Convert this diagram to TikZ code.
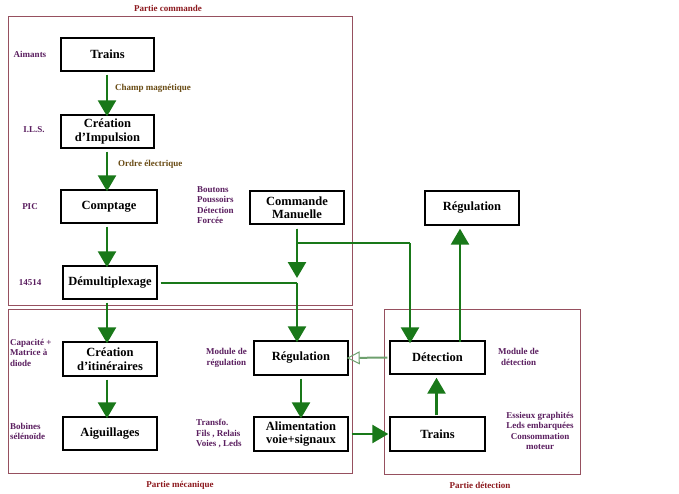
\documentclass[tikz,border=0pt]{standalone}
\usepackage{fontspec}
\setmainfont{Liberation Serif}
\usetikzlibrary{arrows.meta}
\definecolor{grn}{RGB}{25,120,25}
\definecolor{lgrn}{RGB}{110,160,110}
\definecolor{frm}{RGB}{150,80,95}
\definecolor{ttl}{RGB}{140,25,30}
\definecolor{lbl}{RGB}{90,30,95}
\definecolor{alb}{RGB}{105,75,20}
\begin{document}
\begin{tikzpicture}[x=1pt,y=-1pt,
 box/.style={draw,line width=1.4pt,font=\bfseries\fontsize{12.5}{13.5}\selectfont,align=center,inner sep=0},
 fr/.style={draw=frm,line width=0.8pt},
 ttlt/.style={text=ttl,font=\bfseries\fontsize{9}{9}\selectfont},
 lb/.style={text=lbl,font=\bfseries\fontsize{9}{10.5}\selectfont,align=left,inner sep=0},
 al/.style={text=alb,font=\bfseries\fontsize{9}{9}\selectfont,anchor=west,inner sep=0},
 ar/.style={draw=grn,line width=2.6pt,-{Triangle[length=16pt,width=18pt]}},
 ln/.style={draw=grn,line width=2pt}]
\useasboundingbox (0,0) rectangle (679,494);
\draw[fr] (8,16) rectangle (352,305);
\draw[fr] (8,309) rectangle (352,473);
\draw[fr] (384,309) rectangle (580,474);
\node[ttlt] (t1) at (168,8) {Partie commande};
\node[ttlt] (t2) at (180,485) {Partie mécanique};
\node[ttlt] (t3) at (480,485) {Partie détection};
\newcommand{\bx}[6]{\node[box,minimum width=#4-#2,minimum height=#5-#3] (#1) at ({(#2+#4)/2},{(#3+#5)/2}) {#6};}
\bx{tr}{61}{38}{154}{71}{Trains}
\bx{ci}{61}{115}{154}{148}{Création\\d'Impulsion}
\bx{co}{61}{190}{157}{223}{Comptage}
\bx{cm}{250}{191}{344}{224}{Commande\\Manuelle}
\bx{de}{63}{266}{157}{299}{Démultiplexage}
\bx{rt}{425}{191}{519}{225}{Régulation}
\bx{it}{63}{342}{157}{376}{Création\\d'itinéraires}
\bx{ai}{63}{417}{157}{450}{Aiguillages}
\bx{rm}{254}{341}{348}{375}{Régulation}
\bx{al}{254}{417}{348}{451}{Alimentation\\voie+signaux}
\bx{dt}{390}{341}{485}{374}{Détection}
\bx{t2}{390}{417}{485}{451}{Trains}
\node[lb] (l1) at (30,54) {Aimants};
\node[lb] (l2) at (34,130) {I.L.S.};
\node[lb] (l3) at (30,207) {PIC};
\node[lb] (l4) at (30,283) {14514};
\node[lb,anchor=north west] (l5) at (197,186) {Boutons\\Poussoirs\\Détection\\Forcée};
\node[lb,anchor=north west] (l6) at (10,339) {Capacité +\\Matrice à\\diode};
\node[lb,anchor=north west] (l7) at (10,423) {Bobines\\sélénoïde};
\node[lb,align=center,anchor=east] (l8) at (247,358) {Module de\\régulation};
\node[lb,anchor=north west] (l9) at (196,419) {Transfo.\\Fils , Relais\\Voies , Leds};
\node[lb,align=center,anchor=west] (l10) at (498,357) {Module de\\détection};
\node[lb,align=center,anchor=north] (l11) at (540,412) {Essieux graphités\\Leds embarquées\\Consommation\\moteur};
\node[al] (a1) at (115,88) {Champ magnétique};
\node[al] (a2) at (118,164) {Ordre électrique};
\coordinate (xa) at (107,0);
\draw[ar] (tr.south -| xa) ++(0,3) -- ([yshift=-2pt]ci.north -| xa);
\draw[ar] ([yshift=-3pt]ci.south -| xa) -- ([yshift=-2pt]co.north -| xa);
\draw[ar] ([yshift=-3pt]co.south -| xa) -- ([yshift=-2pt]de.north -| xa);
\draw[ar] ([yshift=-3pt]de.south -| xa) -- ([yshift=-2pt]it.north -| xa);
\draw[ar] ([yshift=-3pt]it.south -| xa) -- ([yshift=-2pt]ai.north -| xa);
\coordinate (j1) at (de.east -| 297,0);
\coordinate (j2) at (297,243);
\coordinate (j3) at (410,243);
\coordinate (xr) at (460,0);
\draw[ln] ([xshift=3pt]de.east) -- (j1);
\draw[ln] (cm.south -| j2) ++(0,4) -- (j2) -- (j3);
\draw[ar] (j3) -- ([yshift=-3pt]dt.north -| j3);
\draw[ar] (cm.south -| j2) ++(0,4) -- (297,278);
\draw[ar] (j1) -- ([yshift=-2pt]rm.north -| j1);
\draw[ar] ([yshift=-2pt]dt.north -| xr) -- ([yshift=-3pt]rt.south -| xr);
\draw[draw=lgrn,line width=2pt,-{Triangle[open,length=13pt,width=13pt,line width=1pt]}] ([xshift=-2pt]dt.west) -- ([xshift=-2pt]rm.east);
\draw[ar] ([yshift=-3pt]rm.south) -- ([yshift=-2pt]al.north);
\draw[ar] ([xshift=3pt]al.east) -- ([xshift=-1pt]al.east -| t2.west);
\draw[ar] ([xshift=-1pt,yshift=1pt]t2.north) -- ([xshift=-1pt,yshift=-3pt]dt.south);
\end{tikzpicture}
\end{document}
